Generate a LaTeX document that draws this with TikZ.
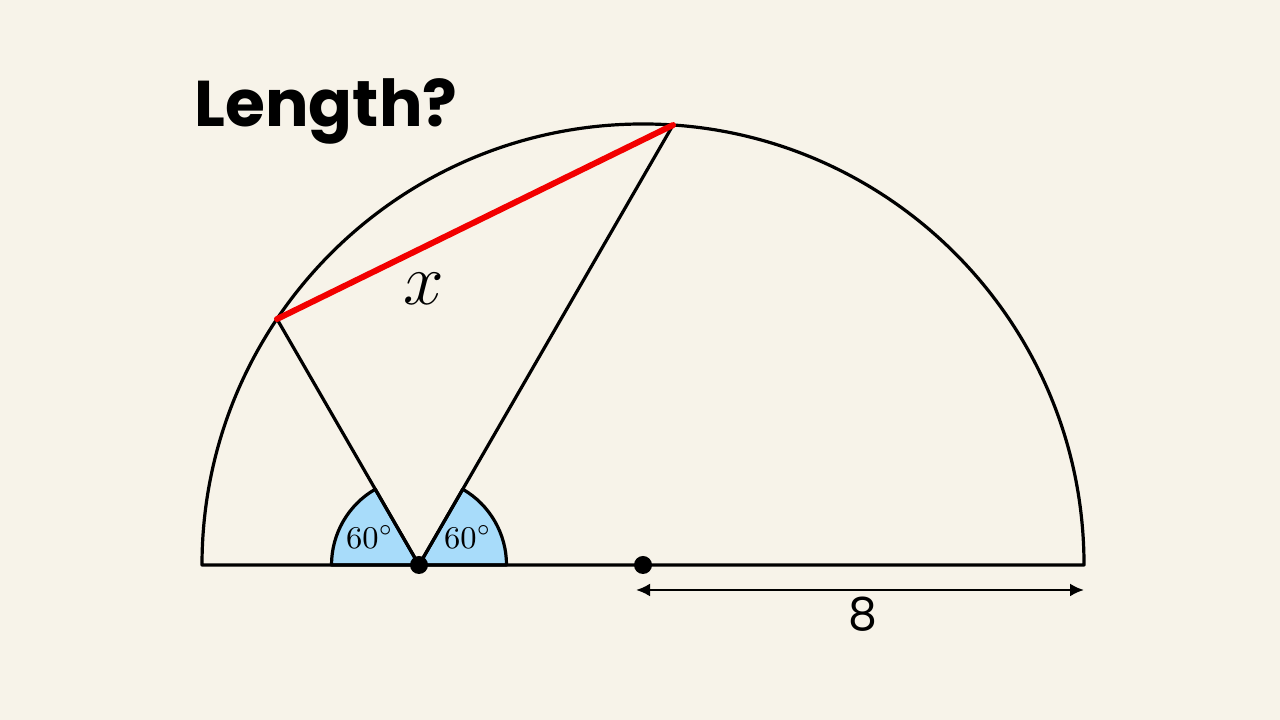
\documentclass[tikz,border=0pt]{standalone}
\usepackage{fontspec}
\newfontfamily\poppins{Poppins}
\usetikzlibrary{arrows.meta,calc}
\definecolor{paper}{HTML}{F7F3E9}
\definecolor{wedge}{HTML}{A8DCFA}
\begin{document}
\begin{tikzpicture}
        \tikzstyle{rim} = [line width=0.032cm, black, line join=round]
        \tikzstyle{chord} = [line width=0.06cm, red!95!black, line cap=round]
        \tikzstyle{dot} = [circle, fill=black, inner sep=0pt, minimum size=0.18cm]
        \tikzstyle{deg} = [inner sep=0pt, font=\fontsize{9}{11}\selectfont]
        \fill[paper] (0,0) rectangle (12.8,7.2);

        \coordinate(o) at (6.43,1.55);
        \coordinate(l) at (2.02,1.55);
        \coordinate(r) at (10.84,1.55);
        \coordinate(p) at (4.19,1.55);
        \coordinate(a) at ($(p)+(120:2.84)$);
        \coordinate(b) at ($(p)+(60:5.08)$);
        \coordinate(s) at (6.36,1.30);
        \coordinate(e) at (10.84,1.30);

        \filldraw[rim, fill=wedge] (p) -- ++(0:0.875) arc (0:60:0.875) -- cycle;
        \filldraw[rim, fill=wedge] (p) -- ++(120:0.875) arc (120:180:0.875) -- cycle;
        \draw[rim] (r) arc (0:180:4.41) -- cycle;
        \draw[rim] (a) -- (p) -- (b);
        \draw[chord] (a) -- (b);

        \node[dot](pd) at (p){};
        \node[dot](od) at (o){};
        \draw[line width=0.025cm, {Latex[length=0.14cm,width=0.13cm]}-{Latex[length=0.14cm,width=0.13cm]}] (s) -- (e);

        \node[deg](d1) at (3.70,1.83){$60^\circ$};
        \node[deg](d2) at (4.68,1.83){$60^\circ$};
        \node[font=\fontsize{20}{22}\selectfont](x) at (4.24,4.31){$x$};
        \node[font=\poppins\fontsize{13}{15}\selectfont](len) at (8.63,1.06){8};
        \node[anchor=base west, inner sep=0pt, font=\poppins\bfseries\fontsize{18.4}{22}\selectfont](title) at (1.94,5.93){Length?};
    \end{tikzpicture}
\end{document}
